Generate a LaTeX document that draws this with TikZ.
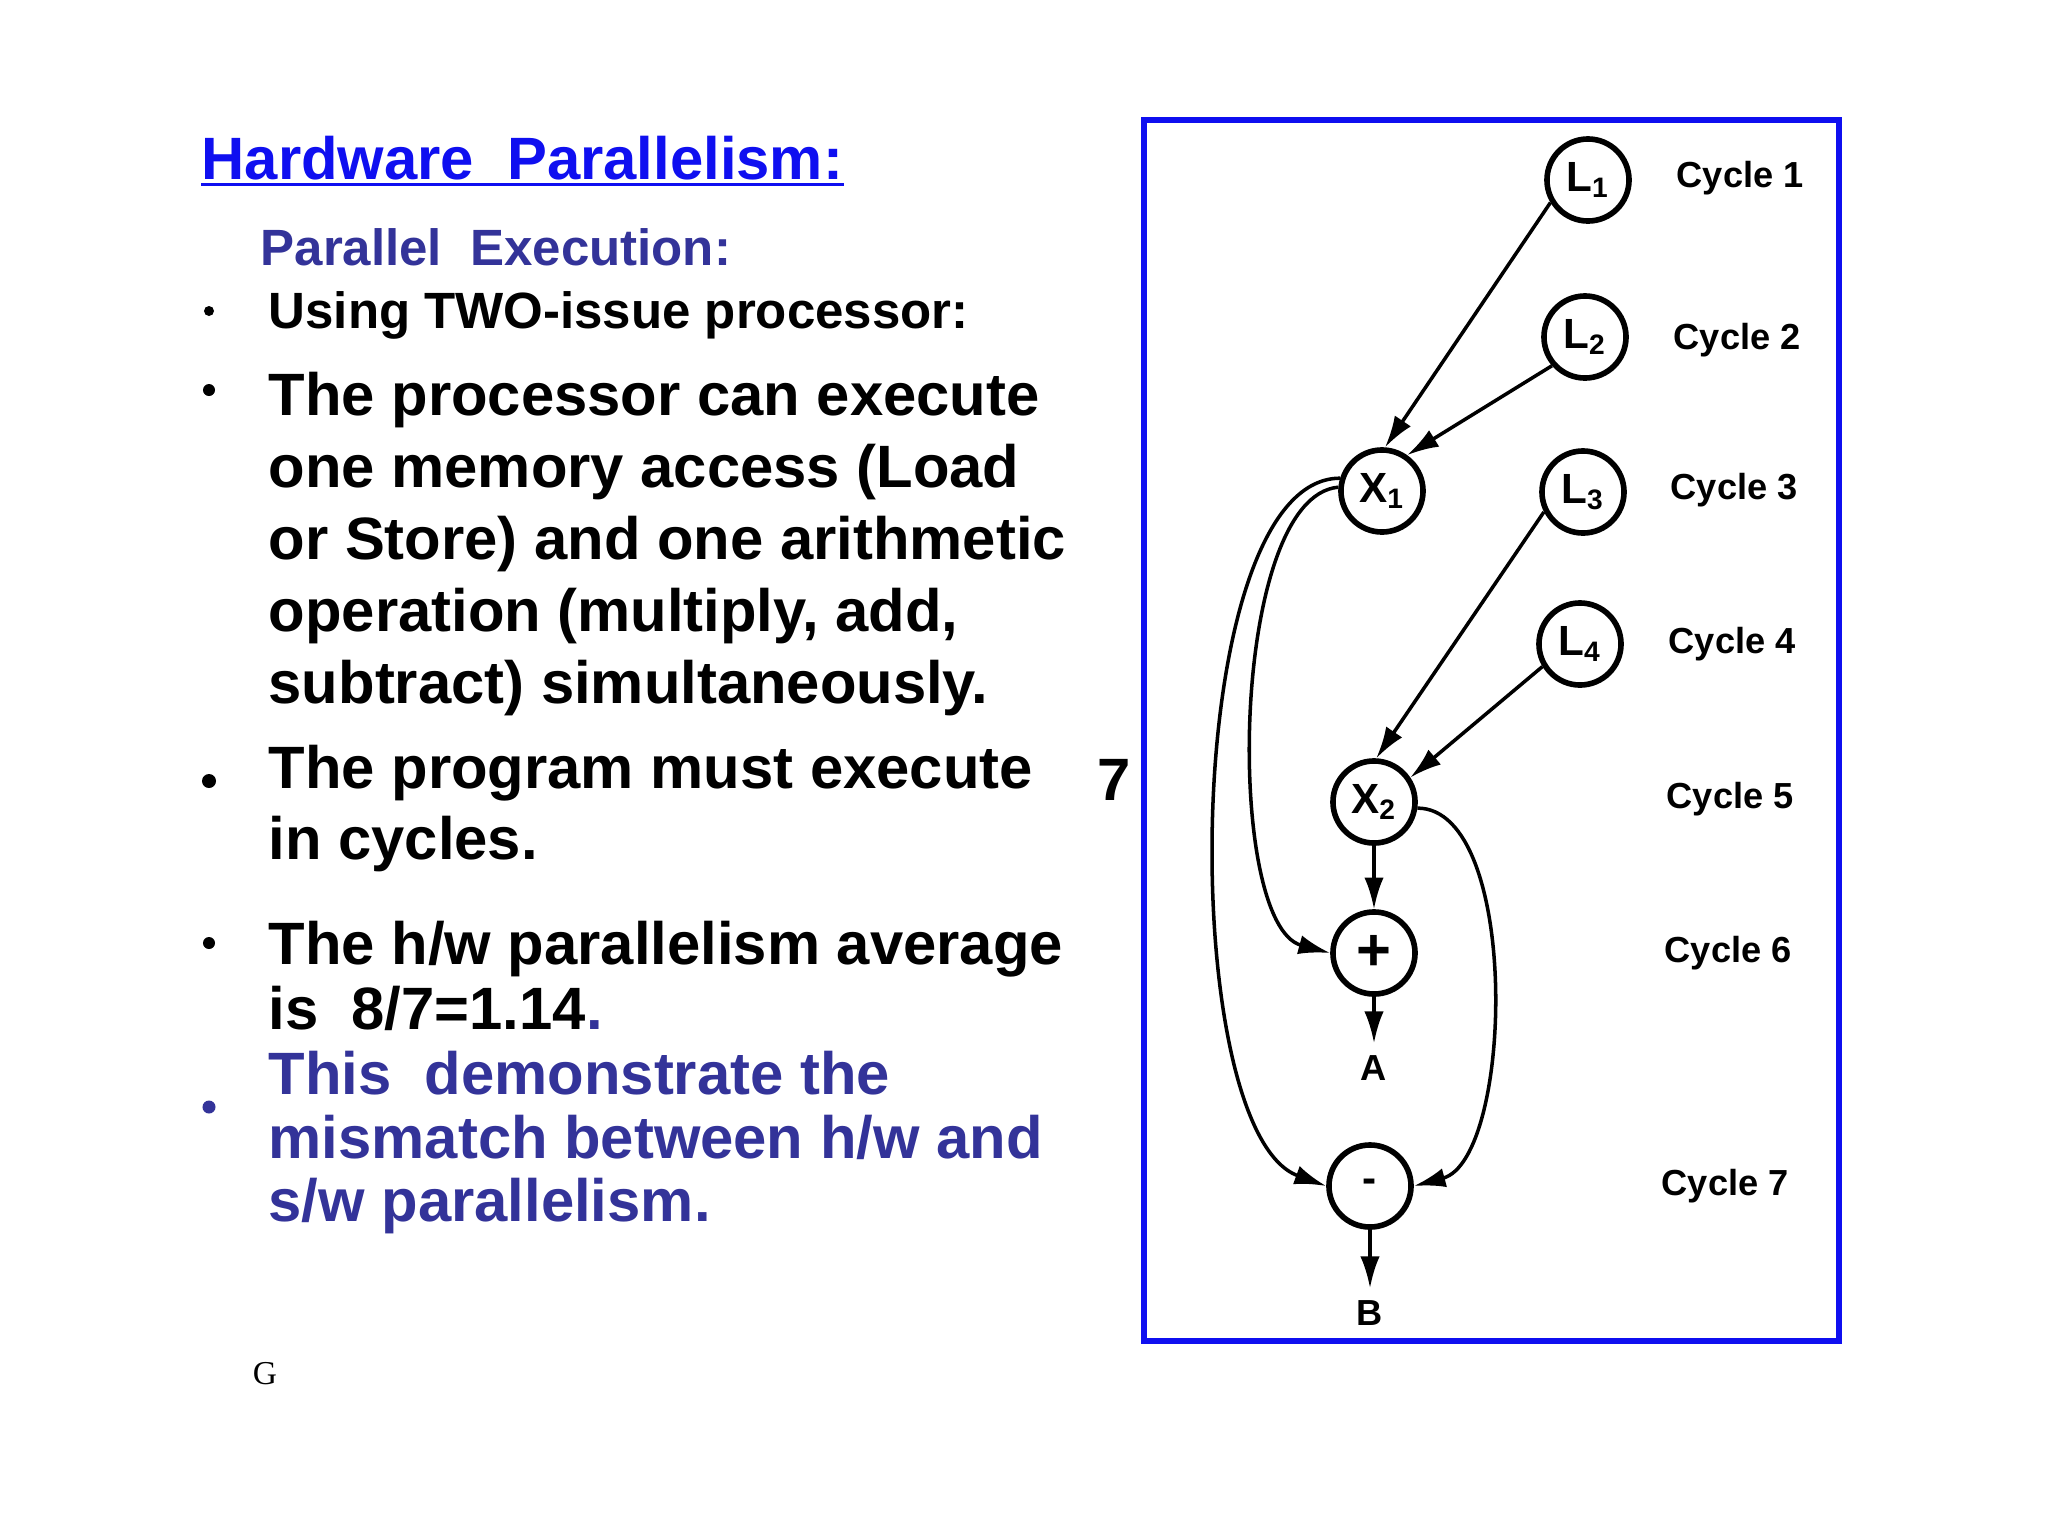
\documentclass[tikz,border=0pt]{standalone}
\usepackage{fontspec}
\setmainfont{Liberation Sans}
\newfontfamily\serifG{Liberation Serif}
\usetikzlibrary{arrows.meta,positioning}
\definecolor{hwblue}{RGB}{15,15,240}
\definecolor{navy}{RGB}{51,51,153}

\begin{document}
\begin{tikzpicture}[x=0.01cm, y=0.01cm, >={Latex[length=9pt,width=5.5pt]},
  op/.style={circle, draw, line width=1.6pt, minimum size=0.82cm, inner sep=0pt,
    font=\fontsize{12}{12}\selectfont\bfseries},
  cyc/.style={anchor=base west, inner sep=0pt, font=\fontsize{10.3}{12}\selectfont\bfseries},
  body/.style={anchor=base west, inner sep=0pt, font=\fontsize{17}{20}\selectfont\bfseries},
  small/.style={anchor=base west, inner sep=0pt, font=\fontsize{14.5}{17}\selectfont\bfseries},
  dot/.style={circle, fill, inner sep=0pt, minimum size=#1},
  edge/.style={->, line width=1pt}]

  % page and frame
  \useasboundingbox (0,0) rectangle (2048,-1536);
  \fill[white] (0,0) rectangle (2048,-1536);
  \draw[hwblue, line width=1.85pt] (1144,-120) rectangle (1839,-1341);

  % left column text
  \node[body, text=hwblue] (title) at (201,-179) {Hardware\ \ Parallelism:};
  \draw[hwblue, line width=0.85pt] ([yshift=-0.5mm]title.base west) -- ([yshift=-0.5mm]title.base east);
  \node[small, text=navy] (sub) at (260,-265) {Parallel\ \ Execution:};

  \node[dot=0.10cm] (b0) at (209,-311) {};
  \node[small] (t0) at (268,-328) {Using TWO-issue processor:};

  \node[dot=0.12cm] (b1) at (209,-390) {};
  \node[body] (t1) at (268,-415) {The processor can execute};
  \node[body] (t2) at (268,-487) {one memory access (Load};
  \node[body] (t3) at (268,-559) {or Store) and one arithmetic};
  \node[body] (t4) at (268,-631) {operation (multiply, add,};
  \node[body] (t5) at (268,-703) {subtract) simultaneously.};

  \node[dot=0.14cm] (b2) at (209,-781) {};
  \node[body] (t6) at (268,-788) {The program must execute};
  \node[body] (t7) at (268,-859) {in cycles.};
  \node[body] (seven) at (1097,-800) {7};

  \node[dot=0.12cm] (b3) at (209,-943) {};
  \node[body] (t8) at (268,-964) {The h/w parallelism average};
  \node[body] (t9) at (268,-1029) {is\ \ 8/7=1.14\textcolor{navy}{.}};

  \node[dot=0.13cm, navy] (b4) at (209,-1107) {};
  \node[body, text=navy] (t10) at (268,-1094) {This\ \ demonstrate the};
  \node[body, text=navy] (t11) at (268,-1158) {mismatch between h/w and};
  \node[body, text=navy] (t12) at (268,-1221) {s/w parallelism.};

  \node[anchor=base, inner sep=0pt, font=\serifG\fontsize{9.5}{11}\selectfont] (G) at (265,-1384) {G};

  % graph nodes
  \node[op] (L1) at (1588,-180) {L\textsubscript{1}};
  \node[op] (L2) at (1585,-337) {L\textsubscript{2}};
  \node[op] (L3) at (1583,-492) {L\textsubscript{3}};
  \node[op] (L4) at (1580,-644) {L\textsubscript{4}};
  \node[op] (X1) at (1382,-491) {X\textsubscript{1}};
  \node[op] (X2) at (1374,-802) {X\textsubscript{2}};
  \node[op, font=\fontsize{17}{17}\selectfont\bfseries] (add) at (1374,-953) {+};
  \node[op] (minus) at (1370,-1186) {-};
  \node[font=\fontsize{10.3}{12}\selectfont\bfseries] (A) at (1374,-1068) {A};
  \node[font=\fontsize{10.3}{12}\selectfont\bfseries] (B) at (1370,-1313) {B};

  % cycle labels
  \node[cyc] (c1) at (1676,-187) {Cycle 1};
  \node[cyc] (c2) at (1673,-349) {Cycle 2};
  \node[cyc] (c3) at (1670,-499) {Cycle 3};
  \node[cyc] (c4) at (1668,-653) {Cycle 4};
  \node[cyc] (c5) at (1666,-808) {Cycle 5};
  \node[cyc] (c6) at (1664,-962) {Cycle 6};
  \node[cyc] (c7) at (1661,-1195) {Cycle 7};

  % arrows
  \draw[edge] (L1.211) -- (X1.86);
  \draw[edge] (L2.221) -- (X1.55);
  \draw[edge] (L3.207) -- (X2.87);
  \draw[edge] (L4.211) -- (X2.34);
  \draw[edge] (X2) -- (add);
  \draw[edge] (add) -- (A);
  \draw[edge] (minus) -- (B);
  \draw[edge] (X1.175) to[out=185, in=165, looseness=0.6] (add.west);
  \draw[edge] (X1.163) to[out=180, in=160, looseness=0.58] (minus.west);
  \draw[edge] (X2.-8) to[out=0, in=15, looseness=0.7] (minus.east);
\end{tikzpicture}
\end{document}
